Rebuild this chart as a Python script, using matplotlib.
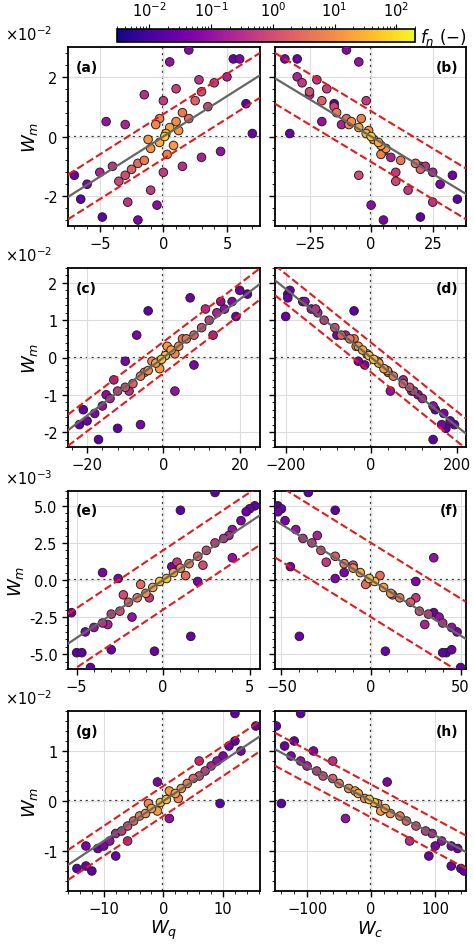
import numpy as np
import matplotlib
matplotlib.use("Agg")
import matplotlib.pyplot as plt
from matplotlib.colors import LogNorm
from matplotlib.ticker import AutoMinorLocator

# Row 1 (Wm x1e-2)
r1_wq = [0.2,0.5,-0.3,1.0,-1.0,0.8,-0.6,1.5,-1.5,2.0,-2.0,2.5,-2.5,3.0,-3.0,3.5,-3.5,4.0,-4.0,1.0,-1.0,0.5,-0.5,5,-5,6,-6,7,-7,4.5,-4.5,2,-2,6.5,-6.5,3,-3,0,0,1.5,-1.5,5.5,-4.8,2.8,-2.8,0.3,-0.3,1.2,-1.2,0.1]
r1_wm = [0.1,0.3,-0.2,0.5,-0.4,-0.3,0.4,0.8,-0.8,0.6,-0.9,1.2,-1.1,1.5,-1.3,1.0,-1.5,1.8,-1.0,1.6,-1.8,2.5,-2.3,2.0,-1.2,2.6,-1.6,0.1,-1.3,-0.5,0.5,2.9,-2.8,1.1,-2.1,-0.7,0.4,1.2,-1.2,-1.0,1.4,2.6,-2.7,1.9,-2.2,-0.6,0.6,0.2,-0.1,0.0]
r1_wc = [-2,-5,3,-8,6,4,-9,-14,12,-10,18,-20,20,-25,-5,-15,10,-28,22,-18,15,-5,0,-30,25,-35,28,-33,33,5,-20,-10,5,-15,35,8,-12,-2,10,20,-25,-30,20,-22,25,4,-4,-1,1,0]
r1_fn = [30,20,25,10,12,15,8,5,5,3,3,2,2,1,1,0.8,0.8,0.5,0.4,0.6,0.5,0.1,0.08,0.2,0.2,0.05,0.05,0.03,0.03,0.1,0.1,0.06,0.05,0.02,0.02,0.2,0.2,0.5,0.5,0.3,0.3,0.03,0.02,0.4,0.4,6,6,12,12,60]

# Row 2 (Wm x1e-2)
r2_wq = [0.5,-0.5,2,-2,4,-4,6,-6,8,-8,10,-10,12,-12,14,-14,16,-16,18,-18,20,-20,22,-22,19,-21,-17,-4,7,-6,-7,3,-10,-12,8,1,-1,3,-3,5,-5,11,-9,13,-13,15,-15]
r2_wm = [0.05,-0.05,0.2,-0.15,0.3,-0.35,0.5,-0.5,0.6,-0.7,0.8,-0.8,1.0,-0.9,1.2,-1.1,1.3,-1.3,1.5,-1.5,1.8,-1.7,1.7,-1.8,1.1,-1.4,-2.2,1.25,1.6,-1.8,0.6,-0.9,-0.1,-1.9,-0.2,0.3,-0.3,0.1,-0.1,0.5,-0.4,1.3,-0.9,0.6,-0.6,1.5,-1.0]
r2_wc = [-5,6,-20,18,-35,38,-50,52,-70,75,-85,90,-110,100,-125,120,-140,145,-160,170,-190,185,-195,195,-200,150,145,-40,-195,165,-80,45,-30,175,-15,-30,30,-10,15,-40,40,-130,95,-60,75,-155,110]
r2_fn = [40,40,20,20,10,10,5,5,2,2,1,1,0.5,0.5,0.2,0.2,0.1,0.1,0.05,0.05,0.03,0.03,0.02,0.02,0.03,0.02,0.02,0.02,0.03,0.05,0.05,0.1,0.05,0.02,0.05,15,15,8,8,4,4,0.3,0.3,0.2,0.2,0.08,0.08]

# Row 3 (Wm x1e-3)
r3_wq = [0.2,-0.2,0.6,-0.6,1.0,-1.0,1.5,-1.5,2.0,-2.0,2.5,-2.5,3.0,-3.0,3.5,-3.5,4.0,-4.0,4.5,-4.5,5.0,-5.0,5.3,-4.7,3.0,1.0,-5.3,-4.2,1.6,-0.5,-2.6,-3.5,2.0,4.0,-3.0,0.8,-0.8,1.3,-1.3,2.3,-2.3,3.8,-3.2,4.8,0.5,-1.8]
r3_wm = [0.1,-0.1,0.5,-0.5,0.8,-0.9,1.1,-1.2,1.6,-1.5,2.0,-2.1,2.5,-2.3,2.8,-2.9,3.4,-3.2,4.0,-3.5,4.8,-4.9,5.0,-4.9,5.9,4.7,-2.2,-5.9,-3.8,-4.8,0.1,0.5,-0.1,1.5,-4.7,1.2,-1.2,0.3,-0.3,1.0,-1.0,3.0,-3.0,4.6,0.9,-2.5]
r3_wc = [-1,2,-6,7,-10,11,-15,16,-20,22,-28,27,-33,32,-38,40,-42,45,-48,48,-50,42,-52,40,-35,-20,35,50,-40,8,-20,-15,25,35,45,-25,25,5,-3,-10,12,-30,30,-52,-45,38]
r3_fn = [40,40,20,20,10,10,5,5,2,2,1,1,0.5,0.5,0.3,0.3,0.1,0.1,0.05,0.05,0.03,0.02,0.02,0.02,0.02,0.02,0.03,0.02,0.03,0.03,0.05,0.05,0.05,0.1,0.03,0.5,0.5,3,3,1,1,0.2,0.2,0.03,0.05,0.1]

# Row 4 (Wm x1e-2)
r4_wq = [0.5,-0.5,2,-2,3,-3,4,-4,5,-5,6,-6,7,-7,8,-8,9,-9,10,-10,11,-11,12,-12,12,15.5,-14.5,-13,9.5,-1,-8,-13,6,-6,1,-1,2.5,-2.5,1,13]
r4_wm = [0.03,-0.03,0.15,-0.15,0.25,-0.25,0.35,-0.3,0.45,-0.4,0.5,-0.5,0.6,-0.6,0.7,-0.65,0.8,-0.8,0.9,-0.9,1.1,-0.95,1.2,-1.4,1.75,1.5,-1.35,-1.3,-0.05,0.38,-1.1,-0.9,0.8,-0.8,0.2,-0.2,0.05,-0.05,-0.35,1.0]
r4_wc = [-3,5,-20,22,-35,30,-50,45,-60,55,-75,70,-85,85,-100,95,-110,110,-125,125,-135,135,-120,145,-110,-148,140,125,-140,25,90,100,-60,60,-25,15,-10,10,-40,-90]
r4_fn = [40,40,20,20,10,10,5,5,2,2,1,1,0.5,0.5,0.2,0.2,0.1,0.1,0.05,0.05,0.03,0.03,0.02,0.02,0.02,0.02,0.02,0.03,0.02,0.05,0.03,0.05,0.3,0.3,15,15,8,8,0.1,0.05]

rows = [
    dict(wq=r1_wq, wc=r1_wc, wm=r1_wm, fn=r1_fn, xq=(-7.5, 7.6), xc=(-39, 38.5), y=(-3, 3),
         sq=0.27, sc=-0.05, dq=0.75, dc=0.85, xtq=[-5, 0, 5], xtc=[-25, 0, 25], yt=[-2, 0, 2], exp="-2", lab=("(a)", "(b)"), fmt="%g"),
    dict(wq=r2_wq, wc=r2_wc, wm=r2_wm, fn=r2_fn, xq=(-25, 25.3), xc=(-225, 222), y=(-2.4, 2.4),
         sq=0.078, sc=-0.0092, dq=0.42, dc=0.4, xtq=[-20, 0, 20], xtc=[-200, 0, 200], yt=[-2, -1, 0, 1, 2], exp="-2", lab=("(c)", "(d)"), fmt="%g"),
    dict(wq=r3_wq, wc=r3_wc, wm=r3_wm, fn=r3_fn, xq=(-5.5, 5.6), xc=(-53.6, 53), y=(-6, 6),
         sq=0.78, sc=-0.075, dq=2.0, dc=2.5, xtq=[-5, 0, 5], xtc=[-50, 0, 50], yt=[-5, -2.5, 0, 2.5, 5], exp="-3", lab=("(e)", "(f)"), fmt="%.1f"),
    dict(wq=r4_wq, wc=r4_wc, wm=r4_wm, fn=r4_fn, xq=(-16, 16.2), xc=(-150, 148), y=(-1.8, 1.8),
         sq=0.08, sc=-0.0069, dq=0.3, dc=0.33, xtq=[-10, 0, 10], xtc=[-100, 0, 100], yt=[-1, 0, 1], exp="-2", lab=("(g)", "(h)"), fmt="%g"),
]

W, H = 474, 945
fig = plt.figure(figsize=(W/100, H/100), dpi=100)
norm = LogNorm(3e-3, 200)
cmap = "plasma"
tops = [48, 269, 492, 712]
bots = [227, 448, 670, 892]
lefts = [68, 275]
rights = [260, 466]

sc_handle = None
for i, r in enumerate(rows):
    for j in range(2):
        ax = fig.add_axes([lefts[j]/W, 1-bots[i]/H, (rights[j]-lefts[j])/W, (bots[i]-tops[i])/H])
        xs = np.array(r["wq"] if j == 0 else r["wc"], float)
        ys = np.array(r["wm"], float)
        fn = np.array(r["fn"], float)
        order = np.argsort(fn)
        xl = r["xq"] if j == 0 else r["xc"]
        slope = r["sq"] if j == 0 else r["sc"]
        d = r["dq"] if j == 0 else r["dc"]
        ax.grid(True, color="#dddddd", lw=0.8, zorder=0)
        ax.axhline(0, color="#333333", ls=":", lw=1.6, zorder=1)
        ax.axvline(0, color="#333333", ls=":", lw=1.6, zorder=1)
        sc_handle = ax.scatter(xs[order], ys[order], c=fn[order], cmap=cmap, norm=norm, s=38,
                               edgecolors="#222222", linewidths=0.7, zorder=3)
        xx = np.array(xl)
        ax.plot(xx, slope*xx, color="#666666", lw=1.6, zorder=4)
        ax.plot(xx, slope*xx + d, color="#e41a1c", ls="--", lw=1.5, zorder=4)
        ax.plot(xx, slope*xx - d, color="#e41a1c", ls="--", lw=1.5, zorder=4)
        ax.set_xlim(xl)
        ax.set_ylim(r["y"])
        ax.set_xticks(r["xtq"] if j == 0 else r["xtc"])
        ax.set_yticks(r["yt"])
        ax.xaxis.set_minor_locator(AutoMinorLocator(5))
        ax.yaxis.set_minor_locator(AutoMinorLocator(5))
        ax.tick_params(labelsize=10.5, length=4, width=1)
        ax.tick_params(which="minor", length=2.5)
        for s in ax.spines.values():
            s.set_linewidth(1.3)
        if j == 0:
            ax.yaxis.set_major_formatter(matplotlib.ticker.FormatStrFormatter(r["fmt"]))
            ax.set_ylabel(r"$W_m$", fontsize=13, labelpad=2)
            ax.text(0.04, 0.93, r["lab"][0], transform=ax.transAxes, fontsize=10, fontweight="bold", va="top")
            fig.text(5/W, 1-(tops[i]-4)/H, r"$\times10^{" + r["exp"] + "}$", fontsize=10.5, va="bottom")
        else:
            ax.set_yticklabels([])
            ax.text(0.96, 0.93, r["lab"][1], transform=ax.transAxes, fontsize=10, fontweight="bold", va="top", ha="right")
        if i == 3:
            ax.set_xlabel(r"$W_q$" if j == 0 else r"$W_c$", fontsize=13, labelpad=1)

cax = fig.add_axes([117/W, 1-43/H, (415-117)/W, 13/H])
cb = fig.colorbar(sc_handle, cax=cax, orientation="horizontal")
cax.xaxis.set_ticks_position("top")
cax.tick_params(labelsize=10.5)
cb.outline.set_linewidth(1.2)
fig.text(420/W, 1-37/H, r"$f_n$ $(-)$", fontsize=12, va="center")

fig.savefig("out.png", dpi=100)
